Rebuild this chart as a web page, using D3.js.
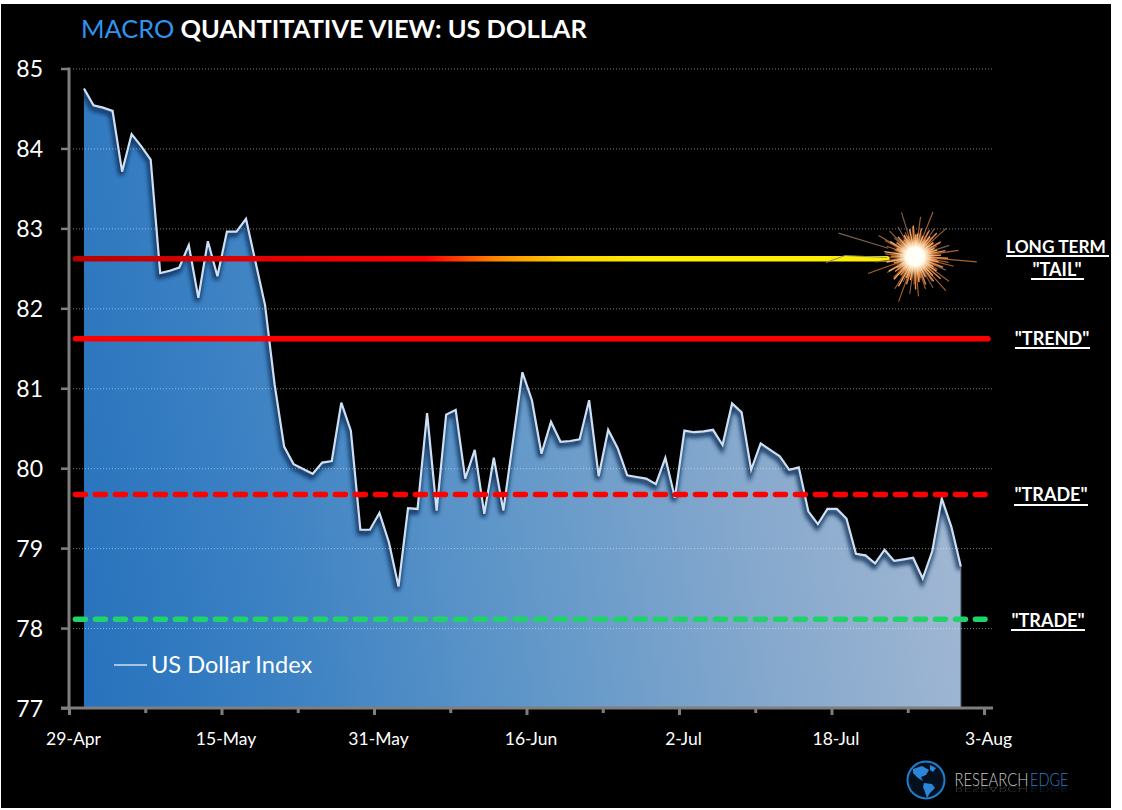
<!DOCTYPE html>
<html><head><meta charset="utf-8">
<script src="https://cdn.jsdelivr.net/npm/d3@7/dist/d3.min.js"></script>
<style>
html,body{margin:0;padding:0;background:#fff;overflow:hidden}
svg{display:block}
text{font-family:Lato,"Open Sans",sans-serif}
</style></head><body>
<svg id="c" width="1122" height="810"></svg>
<script>
const usDollarIndex = [84.75,84.54,84.51,84.47,83.71,84.18,84.03,83.86,82.44,82.47,82.51,82.79,82.13,82.84,82.40,82.96,82.96,83.12,82.58,82.04,81.05,80.27,80.05,79.99,79.93,80.07,80.09,80.82,80.47,79.23,79.23,79.44,79.07,78.52,79.50,79.49,80.69,79.47,80.67,80.73,79.87,80.23,79.43,80.13,79.47,80.33,81.20,80.85,80.18,80.58,80.33,80.34,80.36,80.85,79.90,80.48,80.25,79.91,79.89,79.87,79.80,80.13,79.63,80.47,80.45,80.46,80.48,80.29,80.81,80.70,79.98,80.31,80.23,80.15,79.98,80.01,79.46,79.30,79.49,79.49,79.37,78.93,78.91,78.81,78.98,78.84,78.86,78.88,78.62,78.96,79.62,79.27,78.77];
const firstSeriesDay = 1.57;
const yTicks = [77,78,79,80,81,82,83,84,85];
const xMajorDays = [0,16,32,48,64,80,96];
const xMinorDays = [8,24,40,56,72,88];
const xTickLabels = ["29-Apr","15-May","31-May","16-Jun","2-Jul","18-Jul","3-Aug"];
const tailLevel = 82.62, trendLevel = 81.62, tradeHigh = 79.67, tradeLow = 78.11;
const sparkAngles = [197,5,-68,-107,110,160,172,-150,-135,-120,-95,-82,-55,-42,-30,-18,-8,14,24,36,48,60,72,85,98,122,136,150,185,208,222,-160,-112,-75,-62,-48,-25,10,30,55,78,92,115,128,142,168,178,232,-88,-36];
const sparkLengths = [80,62,48,46,48,50,40,42,36,34,30,40,34,42,30,36,44,40,34,42,46,36,34,40,38,38,30,32,30,34,28,30,26,24,28,26,24,34,26,30,24,28,28,24,22,24,26,20,22,22];
const emberAngles = [3,13,21,29,41,47,53,63,69,81,89,101,107,119,127,133,143,151,163,169,181,189,199,211,217,229,237,243,251,259,267,277,283,291,299,307,313,323,331,337,349,357,8,34,76,112,148,204,246,272,302,344];
const emberLengths = [33,24,30,21,34,26,31,23,30,26,33,24,29,34,23,31,25,30,22,29,24,31,21,29,23,26,20,24,22,28,31,23,29,22,30,25,32,23,29,21,31,26,22,26,22,23,21,20,19,22,20,23];

const x=d3.scaleLinear().domain([0,96]).range([69,984]);
const y=d3.scaleLinear().domain([77,85]).range([708,68.5]);
const svg=d3.select("#c");
const defs=svg.append("defs");
const lx0=75.4,lx1=988;

const ag=defs.append("linearGradient").attr("id","areaG").attr("gradientUnits","userSpaceOnUse")
 .attr("x1",84).attr("y1",640).attr("x2",960).attr("y2",480);
[[0,"#2873bd"],[.2,"#3a80c3"],[.5,"#6298c9"],[.75,"#85a8cd"],[1,"#a2b8d3"]].forEach(s=>ag.append("stop").attr("offset",s[0]).attr("stop-color",s[1]));
const tg=defs.append("linearGradient").attr("id","tailG").attr("gradientUnits","userSpaceOnUse")
 .attr("x1",lx0).attr("y1",0).attr("x2",890).attr("y2",0);
[[0,"#b80000"],[.3,"#f00000"],[.43,"#ff0000"],[.52,"#ff8a00"],[.6,"#ffd000"],[.7,"#ffee00"],[1,"#ffee00"]].forEach(s=>tg.append("stop").attr("offset",s[0]).attr("stop-color",s[1]));
const sf=defs.append("filter").attr("id","shadow").attr("x","-5%").attr("y","-5%").attr("width","110%").attr("height","110%");
sf.append("feGaussianBlur").attr("stdDeviation",2);
const gl=defs.append("radialGradient").attr("id","glow");
[[0,"#ffffff",1],[.36,"#fffdf0",1],[.55,"#ffdcae",.75],[.8,"#e08a48",.25],[1,"#c05010",0]].forEach(s=>gl.append("stop").attr("offset",s[0]).attr("stop-color",s[1]).attr("stop-opacity",s[2]));
const cl=defs.append("clipPath").attr("id","areaClip");

svg.append("rect").attr("x",1).attr("y",4).attr("width",1110).attr("height",804).attr("fill","#000");

const pts=usDollarIndex.map((v,i)=>({d:firstSeriesDay+i,v}));
const area=d3.area().x(d=>x(d.d)).y0(y(77)).y1(d=>y(d.v));
const line=d3.line().x(d=>x(d.d)).y(d=>y(d.v));

svg.append("path").attr("d",area(pts)).attr("fill","url(#areaG)");
cl.append("path").attr("d",area(pts));
svg.append("g").attr("clip-path","url(#areaClip)").append("path").attr("d",line(pts))
 .attr("transform","translate(-1,3)").attr("fill","none").attr("stroke","#0c2f58").attr("stroke-opacity",.95)
 .attr("stroke-width",5).attr("filter","url(#shadow)");
const last=pts[pts.length-1];
svg.append("line").attr("x1",x(last.d)).attr("x2",x(last.d)).attr("y1",y(last.v)).attr("y2",y(77)).attr("stroke","#5f7a9c").attr("stroke-width",1);

svg.append("g").selectAll("line").data(yTicks.slice(1)).join("line")
 .attr("x1",73).attr("x2",992).attr("y1",d=>y(d)+.5).attr("y2",d=>y(d)+.5)
 .attr("stroke","#fff").attr("stroke-opacity",.48).attr("stroke-width",1).attr("stroke-dasharray","1 2");

svg.append("path").attr("d",line(pts)).attr("fill","none").attr("stroke","#cfe0f3").attr("stroke-width",2.2).attr("stroke-linejoin","miter");

const gy=svg.append("g").attr("transform","translate(69,0)")
 .call(d3.axisLeft(y).tickValues(yTicks).tickFormat(d3.format("d")).tickSize(8).tickPadding(18));
gy.select(".domain").attr("stroke","#7f7f7f").attr("stroke-width",3).attr("d",`M0,${y(85)-1}V${y(77)+1}`);
gy.selectAll(".tick line").attr("stroke","#7f7f7f").attr("stroke-width",2.5);
gy.selectAll(".tick text").attr("fill","#fff").attr("font-size",23).attr("font-family","Lato").attr("dy","0.36em");

const gxM=svg.append("g").attr("transform",`translate(0,${y(77)})`)
 .call(d3.axisBottom(x).tickValues(xMinorDays).tickFormat("").tickSize(5));
gxM.select(".domain").remove();
gxM.selectAll(".tick line").attr("stroke","#7f7f7f").attr("stroke-width",3);
const gx=svg.append("g").attr("transform",`translate(0,${y(77)})`)
 .call(d3.axisBottom(x).tickValues(xMajorDays).tickFormat((d,i)=>xTickLabels[i]).tickSize(7).tickPadding(18));
gx.select(".domain").attr("stroke","#7f7f7f").attr("stroke-width",3).attr("d",`M61,0H993`);
gx.selectAll(".tick line").attr("stroke","#7f7f7f").attr("stroke-width",3);
gx.selectAll(".tick text").attr("fill","#fff").attr("font-size",17.5).attr("font-family","Lato").attr("dx",4);

const lev=(v,c,x2,dash)=>svg.append("line").attr("x1",lx0).attr("x2",x2).attr("y1",y(v)).attr("y2",y(v))
 .attr("stroke",c).attr("stroke-width",5.5).attr("stroke-linecap","round").attr("stroke-dasharray",dash||null);
svg.append("line").attr("x1",lx0).attr("x2",887).attr("y1",y(tailLevel)).attr("y2",y(tailLevel)+.01)
 .attr("stroke","url(#tailG)").attr("stroke-width",5.5).attr("stroke-linecap","round");
lev(trendLevel,"#ff0000",lx1);
lev(tradeHigh,"#ff0000",985,"10 10");
lev(tradeLow,"#1fd36a",985,"10 10");

const cx=915,cy=256.5;
const sp=svg.append("g").attr("transform",`translate(${cx},${cy})`);
const ray=(a,l)=>[Math.cos(a*Math.PI/180)*l,Math.sin(a*Math.PI/180)*l];
svg.append("path").attr("d",`M${cx-89},${cy+6}L${cx-70},${cy-1}L${cx-28},${cy+1}`).attr("fill","none").attr("stroke","#8a8a70").attr("stroke-width",1);
sp.selectAll("line.o").data(sparkAngles).join("line").attr("class","o")
 .attr("x1",(a,i)=>ray(a,sparkLengths[i]*.35)[0]).attr("y1",(a,i)=>ray(a,sparkLengths[i]*.35)[1])
 .attr("x2",(a,i)=>ray(a,sparkLengths[i])[0]).attr("y2",(a,i)=>ray(a,sparkLengths[i])[1])
 .attr("stroke",(a,i)=>i%3==0?"#7d6050":"#a8622e").attr("stroke-width",1.1);
sp.selectAll("line.e").data(emberAngles).join("line").attr("class","e")
 .attr("x1",0).attr("y1",0)
 .attr("x2",(a,i)=>ray(a,emberLengths[i])[0]).attr("y2",(a,i)=>ray(a,emberLengths[i])[1])
 .attr("stroke",(a,i)=>i%2?"#ffb070":"#e88a48").attr("stroke-width",1.4);
sp.append("circle").attr("r",26).attr("fill","url(#glow)");

const t=svg.append("text").attr("x",81).attr("y",38).attr("font-size",25.4).attr("font-weight",700).attr("fill","#fff");
t.append("tspan").text("MACRO").attr("fill","#2e95ee").attr("font-weight",400);
t.append("tspan").text(" QUANTITATIVE VIEW: US DOLLAR");

const labels=[["LONG TERM",1056,253,1006,1109,256,17.3],["\"TAIL\"",1057,276,1031,1084,279,18],["\"TREND\"",1052,345,1015,1090,348,18],["\"TRADE\"",1051,501,1014,1088,505,18],["\"TRADE\"",1048,627,1011,1085,630,18]];
svg.append("g").selectAll("text").data(labels).join("text").text(d=>d[0]).attr("x",d=>d[1]).attr("y",d=>d[2])
 .attr("text-anchor","middle").attr("fill","#fff").attr("font-weight",700).attr("font-size",d=>d[6]);
svg.append("g").selectAll("line").data(labels).join("line").attr("x1",d=>d[3]).attr("x2",d=>d[4]).attr("y1",d=>d[5]).attr("y2",d=>d[5])
 .attr("stroke","#fff").attr("stroke-width",1.8);

svg.append("line").attr("x1",114).attr("x2",147).attr("y1",665).attr("y2",665).attr("stroke","#cfe0f3").attr("stroke-width",1.6);
svg.append("text").text("US Dollar Index").attr("x",151).attr("y",672.5).attr("fill","#fff").attr("font-size",23.6);

const lo=svg.append("g").attr("transform","translate(926,780)");
lo.append("circle").attr("r",18.5).attr("fill","#04101e").attr("stroke","#1b7fd0").attr("stroke-width",2);
lo.append("path").attr("d","M-13,-11L-4,-14L3,-10L0,-5L-5,-3L-3,1L-8,-2L-13,-7Z M4,-15L10,-12L7,-8L4,-10Z M-2,3L6,4L9,8L4,13L1,18L-1,12L-3,7Z").attr("fill","#2a86d8");
const lg=svg.append("g").attr("id","logoText");
const lt=(s,x0,w,c)=>{const e=lg.append("text").text(s).attr("x",0).attr("y",0).attr("font-size",18).attr("font-family","Open Sans").attr("font-weight",300).attr("fill",c);
 const n=e.node().getComputedTextLength();
 e.attr("transform",`translate(${x0},786) scale(${w/n},1)`);};
lt("RESEARCH",954.5,74,"#c8c8c8");
lt("EDGE",1030,38.5,"#2b7fc0");
svg.append("use").attr("href","#logoText").attr("transform","translate(0,786) scale(1,-0.45) translate(0,-786)").attr("opacity",.3);
</script></body></html>
